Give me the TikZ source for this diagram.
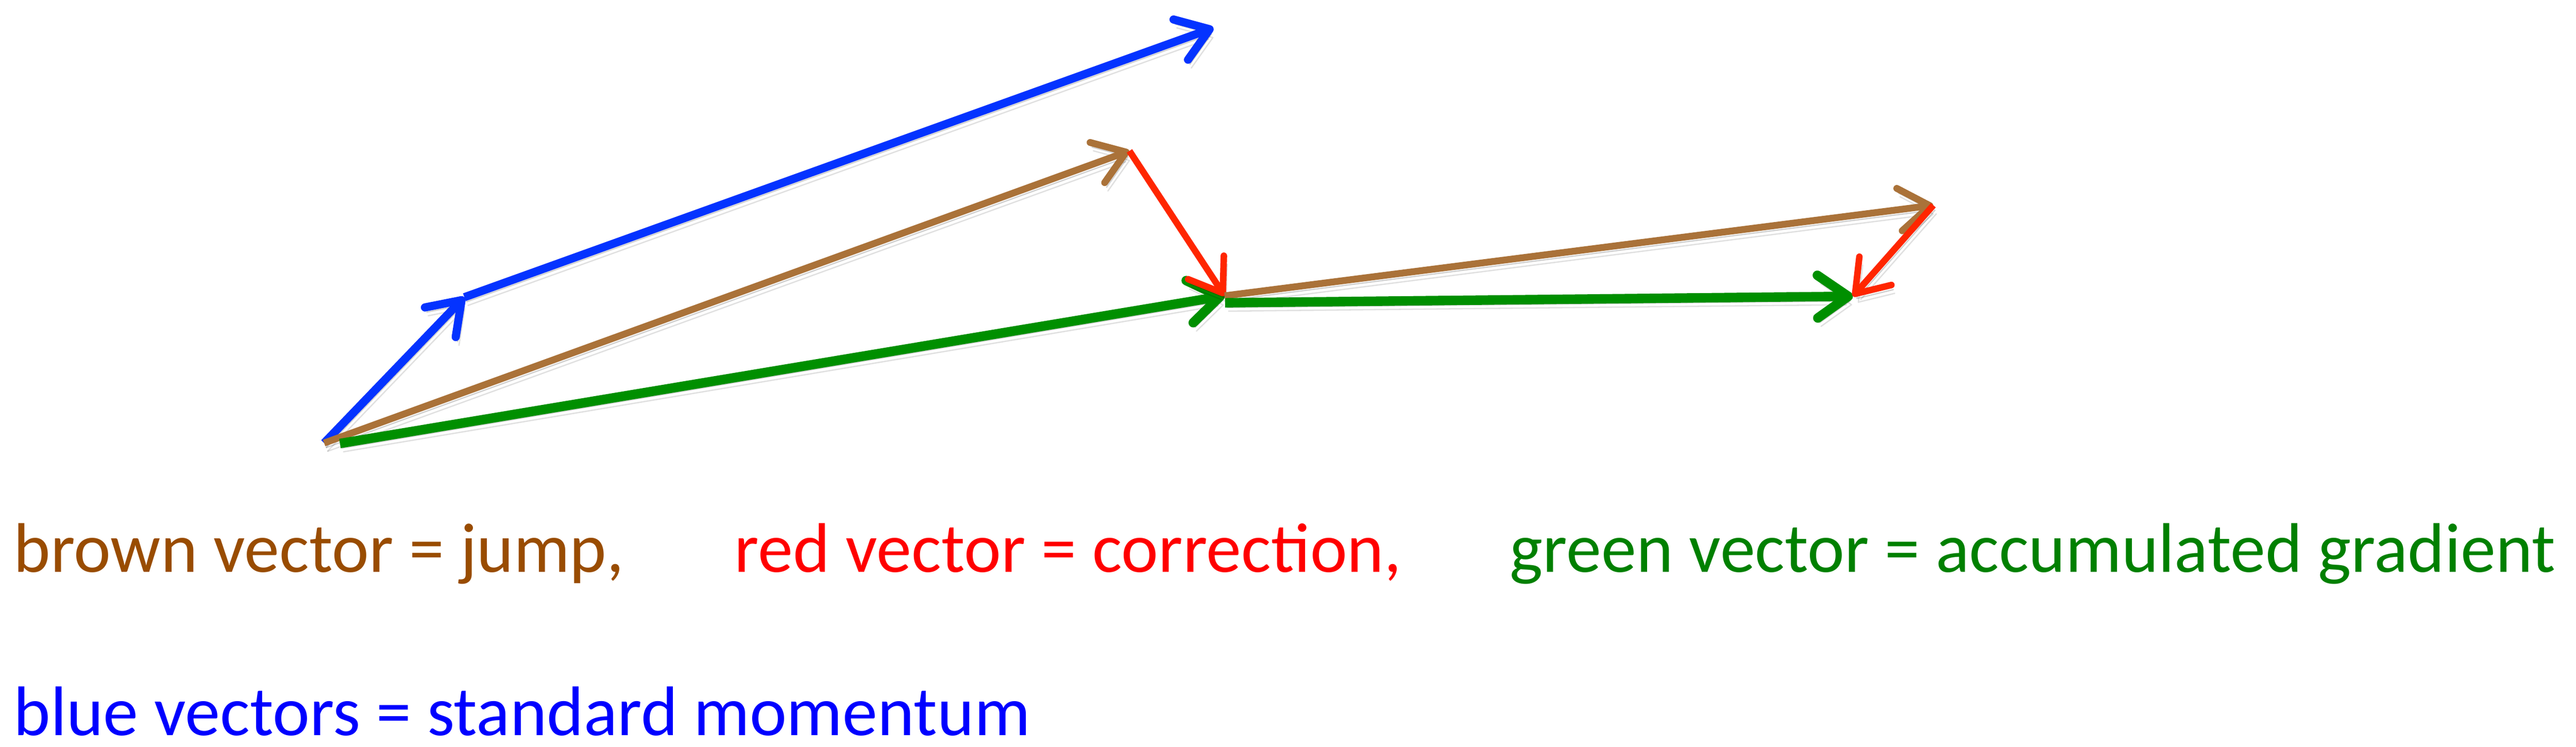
\documentclass[tikz,border=0pt]{standalone}
\usepackage{fontspec}
\setmainfont{Carlito}
\usepackage{xcolor}
\definecolor{vecBlue}{HTML}{0433FF}
\definecolor{vecBrown}{HTML}{AA7239}
\definecolor{vecRed}{HTML}{FF2600}
\definecolor{vecGreen}{HTML}{008F00}
\definecolor{txtBrown}{HTML}{994C00}
\definecolor{txtRed}{HTML}{FF0000}
\definecolor{txtGreen}{HTML}{008000}
\definecolor{txtBlue}{HTML}{0000FF}
\usetikzlibrary{arrows.meta}
\tikzset{
    vector/.style={
        -{Straight Barb[length=3.3mm,width=4.6mm,line width=0pt 1,round]},
        preaction={
            draw=black,
            opacity=0.12,
            transform canvas={shift={(0.35mm,-0.9mm)}}
        },
        preaction={
            draw=black,
            opacity=0.18,
            transform canvas={shift={(0.2mm,-0.5mm)}}
        }
    },
    bluevec/.style={vector, line width=2.5pt, color=vecBlue},
    brownvec/.style={vector, line width=2.1pt, color=vecBrown},
    redvec/.style={vector, line width=2.0pt, color=vecRed},
    greenvec/.style={vector, line width=2.9pt, color=vecGreen},
    legend/.style={
        anchor=base west,
        inner sep=0pt,
        font=\fontsize{21.5}{26}\selectfont
    }
}

\begin{document}
\begin{tikzpicture}
    \useasboundingbox (0,0) rectangle (27.735,8.04);

    % Points of the two steps
    \coordinate (start) at (3.49,3.27);
    \coordinate (gstart) at (3.66,3.265);
    \coordinate (mom) at (5.00,4.84);
    \coordinate (momtop) at (13.065,7.74);
    \coordinate (jump1) at (12.16,6.415);
    \coordinate (step1) at (13.185,4.855);
    \coordinate (gstep1) at (13.19,4.78);
    \coordinate (jump2) at (20.815,5.83);
    \coordinate (step2) at (19.95,4.85);

    % Standard momentum
    \draw[bluevec] (start) -- (mom);
    \draw[bluevec] (mom) -- (momtop);

    % Jumps, corrections and accumulated gradient
    \draw[brownvec] (start) -- (jump1);
    \draw[greenvec] (gstart) -- (step1);
    \draw[redvec] (jump1) -- (step1);
    \draw[brownvec] (step1) -- (jump2);
    \draw[greenvec] (gstep1) -- (step2);
    \draw[redvec] (jump2) -- (step2);

    % Legend
    \node[legend, text=txtBrown] (lbrown) at (0.14,1.88) {brown vector = jump,};
    \node[legend, text=txtRed] (lred) at (7.90,1.88) {red vector = correction,};
    \node[legend, text=txtGreen] (lgreen) at (16.25,1.88) {green vector = accumulated gradient};
    \node[legend, text=txtBlue] (lblue) at (0.14,0.12) {blue vectors = standard momentum};
\end{tikzpicture}
\end{document}
